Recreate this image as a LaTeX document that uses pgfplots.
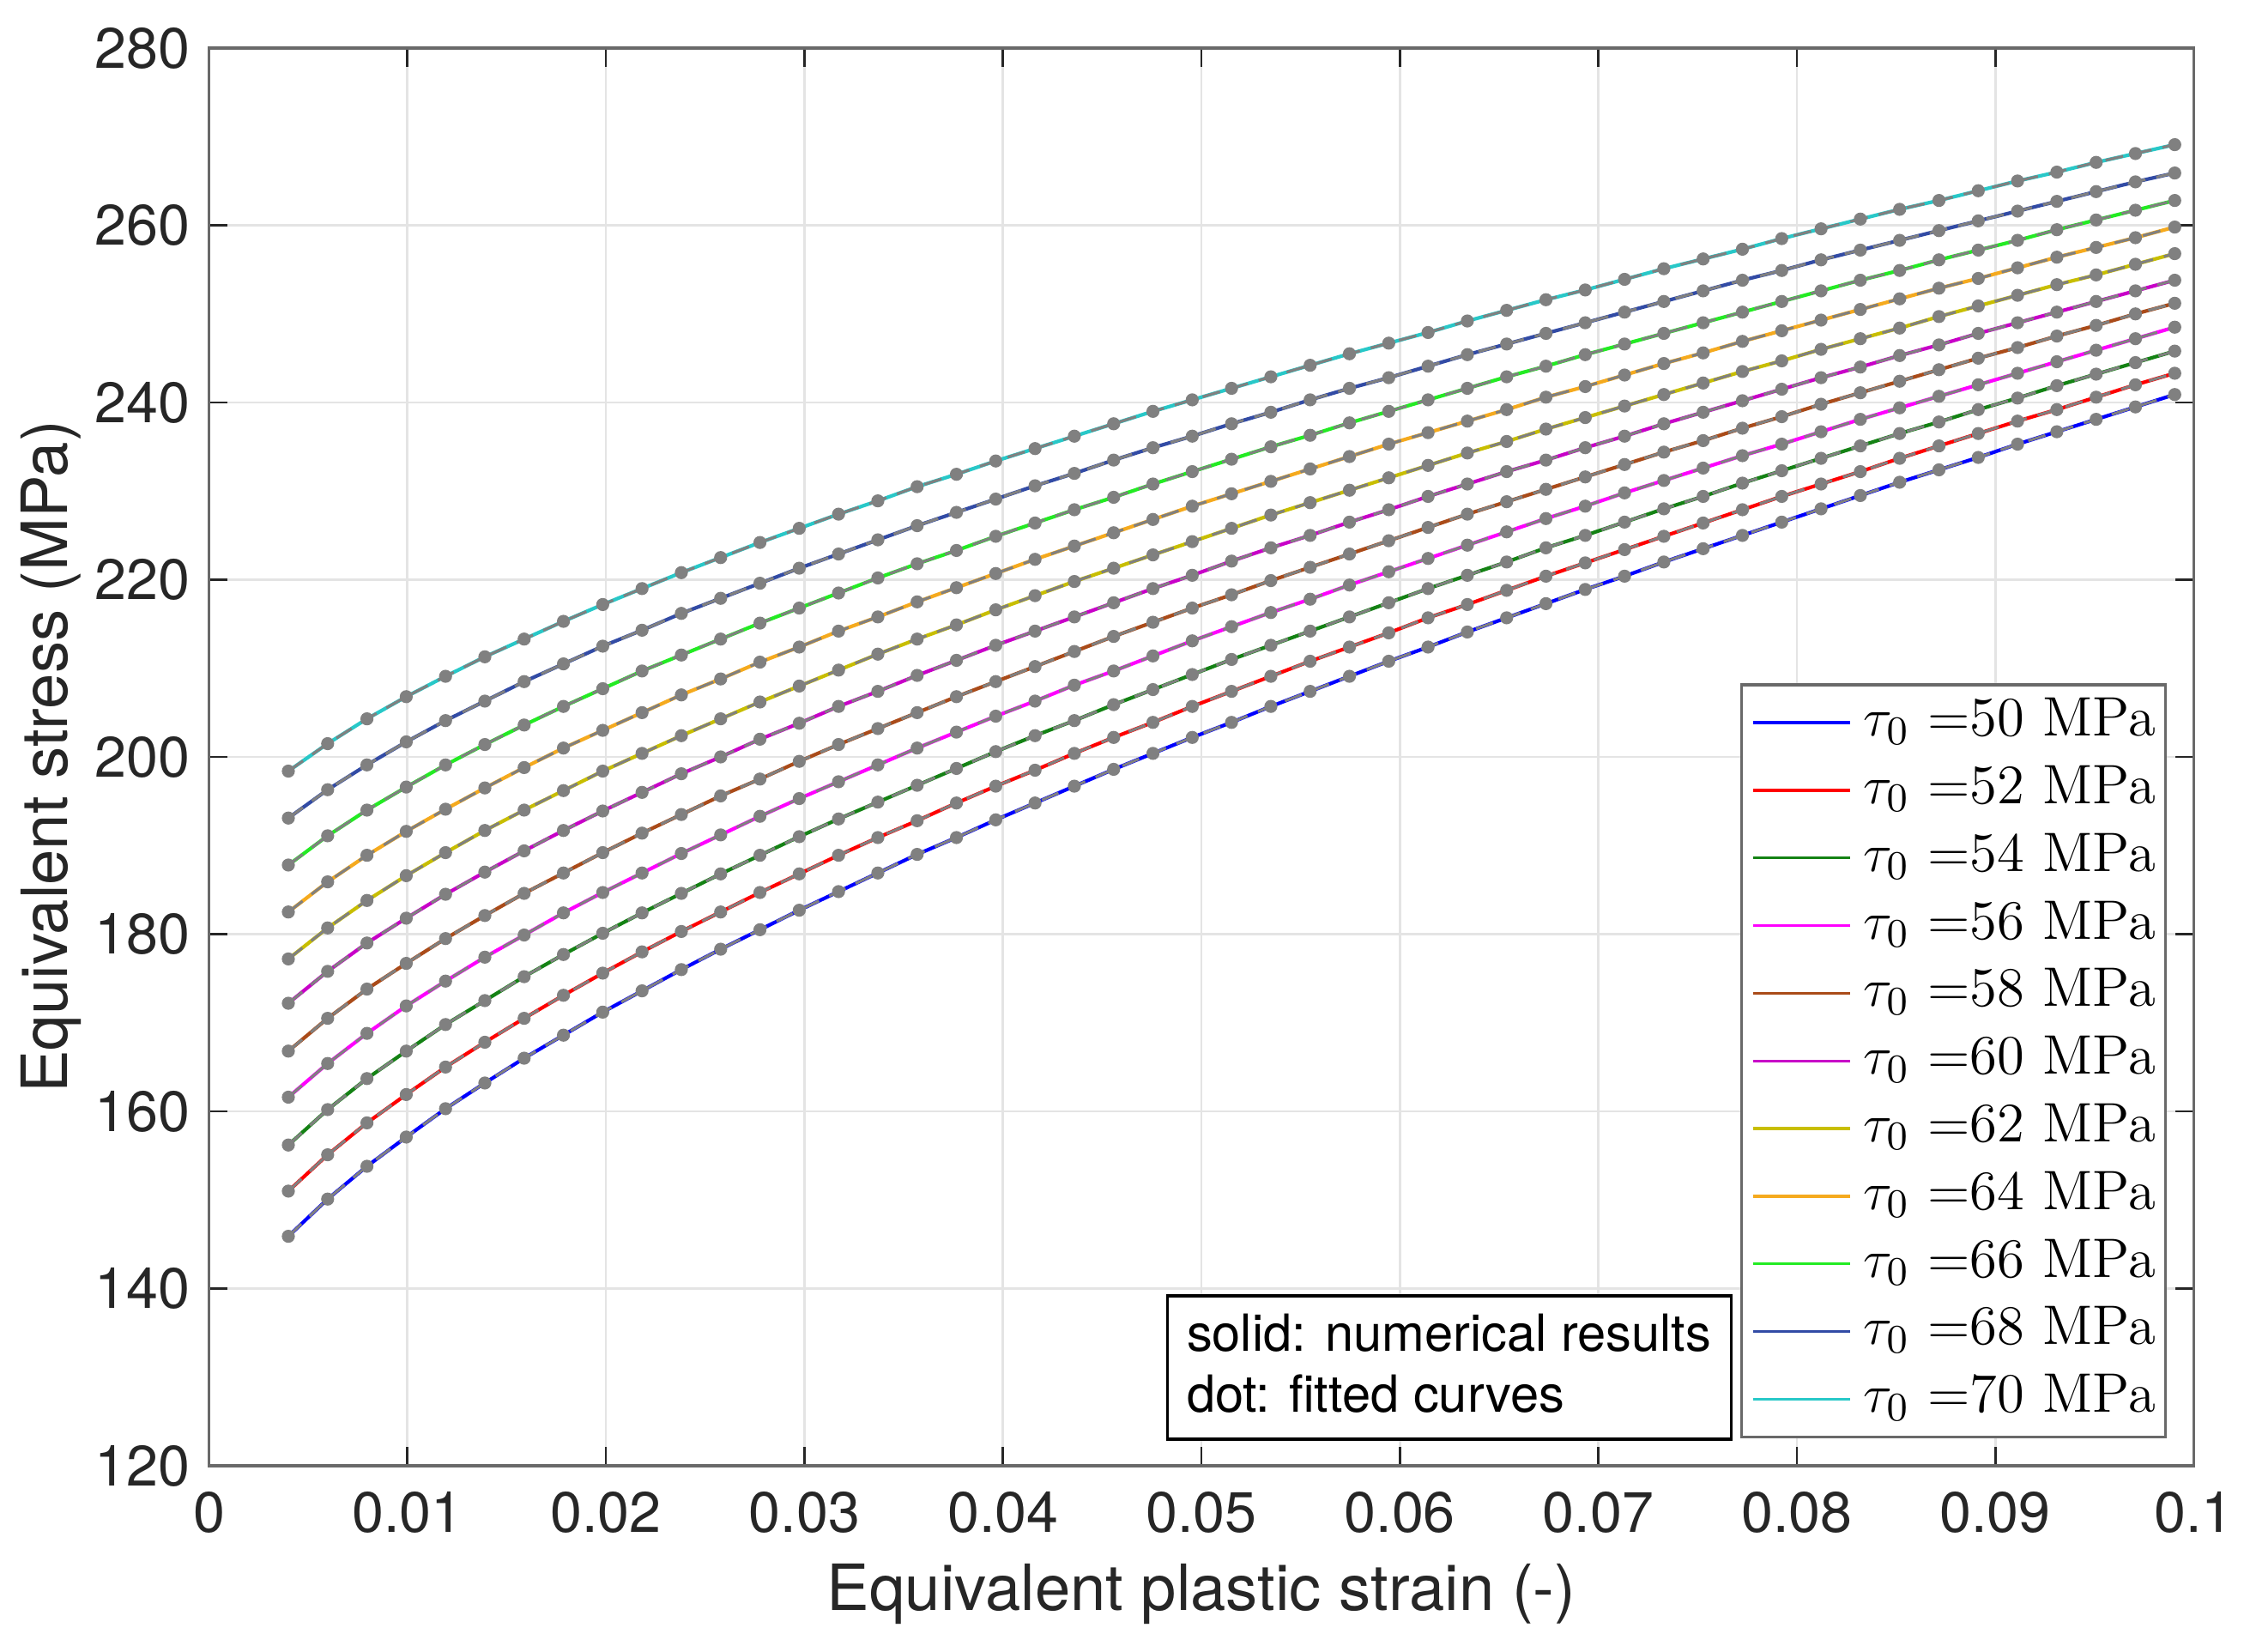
\documentclass[border=0pt]{standalone}
\usepackage{fontspec}
\usepackage{pgfplots}
\usepackage{pgfplotstable}
\pgfplotsset{compat=1.18}
\newfontfamily\heros{TeX Gyre Heros}
\definecolor{cA}{RGB}{0,0,255}
\definecolor{cB}{RGB}{255,0,0}
\definecolor{cC}{RGB}{20,130,20}
\definecolor{cD}{RGB}{255,0,255}
\definecolor{cE}{RGB}{170,75,25}
\definecolor{cF}{RGB}{200,0,200}
\definecolor{cG}{RGB}{200,190,0}
\definecolor{cH}{RGB}{245,170,30}
\definecolor{cI}{RGB}{35,235,35}
\definecolor{cJ}{RGB}{50,75,165}
\definecolor{cK}{RGB}{40,200,200}
\definecolor{txt}{RGB}{38,38,38}
\definecolor{axgray}{RGB}{105,105,105}
\definecolor{gridc}{RGB}{228,228,228}
\definecolor{fitgray}{RGB}{128,128,128}

\pgfplotstableread{
x s50 s52 s54 s56 s58 s60 s62 s64 s66 s68 s70
0.00400 145.9 151.0 156.2 161.6 166.8 172.2 177.2 182.5 187.8 193.1 198.4
0.00598 150.1 155.1 160.2 165.4 170.5 175.8 180.7 185.9 191.1 196.3 201.5
0.00796 153.8 158.7 163.7 168.8 173.8 179.0 183.8 188.9 194.0 199.1 204.3
0.00994 157.1 161.9 166.8 171.9 176.7 181.8 186.6 191.6 196.6 201.7 206.8
0.01192 160.3 165.0 169.8 174.7 179.5 184.5 189.2 194.1 199.1 204.1 209.1
0.01390 163.2 167.8 172.5 177.4 182.1 187.0 191.7 196.5 201.4 206.3 211.3
0.01588 166.0 170.5 175.2 179.9 184.6 189.4 194.0 198.8 203.6 208.5 213.3
0.01786 168.6 173.1 177.7 182.4 186.9 191.7 196.2 201.0 205.7 210.5 215.3
0.01984 171.2 175.6 180.1 184.7 189.2 193.9 198.4 203.0 207.7 212.5 217.2
0.02182 173.6 178.0 182.4 186.9 191.4 196.0 200.4 205.0 209.7 214.3 219.0
0.02380 176.0 180.3 184.6 189.1 193.5 198.1 202.4 207.0 211.5 216.2 220.8
0.02578 178.3 182.5 186.8 191.2 195.6 200.0 204.3 208.8 213.3 217.9 222.5
0.02776 180.5 184.7 188.9 193.3 197.5 202.0 206.2 210.7 215.1 219.6 224.2
0.02974 182.7 186.8 191.0 195.3 199.5 203.8 208.0 212.4 216.8 221.3 225.8
0.03172 184.8 188.9 193.0 197.2 201.4 205.7 209.8 214.2 218.5 222.9 227.4
0.03370 186.9 190.9 194.9 199.1 203.2 207.4 211.6 215.8 220.2 224.5 228.9
0.03568 189.0 192.8 196.8 201.0 205.0 209.2 213.3 217.5 221.8 226.1 230.5
0.03766 190.9 194.8 198.7 202.8 206.8 210.9 214.9 219.1 223.3 227.6 231.9
0.03964 192.9 196.7 200.6 204.6 208.5 212.6 216.6 220.7 224.9 229.1 233.4
0.04162 194.8 198.5 202.4 206.3 210.2 214.2 218.2 222.3 226.4 230.6 234.8
0.04360 196.7 200.4 204.1 208.1 211.9 215.8 219.8 223.8 227.9 232.0 236.2
0.04558 198.6 202.2 205.9 209.7 213.6 217.4 221.3 225.3 229.3 233.5 237.6
0.04756 200.4 203.9 207.6 211.4 215.2 219.0 222.8 226.8 230.8 234.9 239.0
0.04954 202.2 205.7 209.3 213.1 216.8 220.5 224.3 228.3 232.2 236.2 240.3
0.05152 203.9 207.4 211.0 214.7 218.3 222.1 225.8 229.7 233.6 237.6 241.6
0.05350 205.7 209.1 212.6 216.3 219.9 223.6 227.3 231.1 235.0 238.9 242.9
0.05548 207.4 210.8 214.2 217.8 221.4 225.0 228.7 232.5 236.3 240.3 244.2
0.05746 209.1 212.4 215.8 219.4 222.9 226.5 230.1 233.9 237.7 241.6 245.5
0.05944 210.8 214.0 217.4 220.9 224.4 227.9 231.5 235.3 239.0 242.8 246.7
0.06142 212.4 215.7 219.0 222.4 225.9 229.4 232.9 236.6 240.3 244.1 247.9
0.06340 214.1 217.2 220.5 223.9 227.4 230.8 234.3 237.9 241.6 245.4 249.2
0.06538 215.7 218.8 222.0 225.4 228.8 232.2 235.6 239.2 242.9 246.6 250.4
0.06736 217.3 220.4 223.6 226.9 230.2 233.5 237.0 240.6 244.1 247.8 251.6
0.06934 218.9 221.9 225.0 228.3 231.6 234.9 238.3 241.8 245.4 249.0 252.7
0.07132 220.4 223.4 226.5 229.8 233.0 236.2 239.6 243.1 246.6 250.2 253.9
0.07330 222.0 224.9 228.0 231.2 234.4 237.6 240.9 244.4 247.8 251.4 255.1
0.07528 223.5 226.4 229.4 232.6 235.7 238.9 242.2 245.6 249.0 252.6 256.2
0.07726 225.0 227.9 230.9 234.0 237.1 240.2 243.5 246.9 250.2 253.8 257.3
0.07924 226.5 229.4 232.3 235.3 238.4 241.5 244.7 248.1 251.4 254.9 258.5
0.08122 228.0 230.8 233.7 236.7 239.8 242.8 246.0 249.3 252.6 256.1 259.6
0.08320 229.5 232.2 235.1 238.1 241.1 244.0 247.2 250.5 253.8 257.2 260.7
0.08518 231.0 233.7 236.5 239.4 242.4 245.3 248.4 251.7 254.9 258.3 261.8
0.08716 232.4 235.1 237.8 240.7 243.7 246.5 249.7 252.9 256.1 259.4 262.8
0.08914 233.8 236.5 239.2 242.0 245.0 247.8 250.9 254.0 257.2 260.5 263.9
0.09112 235.3 237.9 240.5 243.3 246.2 249.0 252.1 255.2 258.3 261.6 265.0
0.09310 236.7 239.2 241.9 244.6 247.5 250.2 253.3 256.4 259.5 262.7 266.0
0.09508 238.1 240.6 243.2 245.9 248.7 251.4 254.4 257.5 260.6 263.8 267.1
0.09706 239.5 242.0 244.5 247.2 250.0 252.6 255.6 258.6 261.7 264.9 268.1
0.09904 240.9 243.3 245.8 248.5 251.2 253.8 256.8 259.8 262.8 265.9 269.1
}\data

\begin{document}
\begin{tikzpicture}
\begin{axis}[
  scale only axis,
  width=442.26pt, height=315.87pt,
  xmin=0, xmax=0.1, ymin=120, ymax=280,
  xtick={0,0.01,0.02,0.03,0.04,0.05,0.06,0.07,0.08,0.09,0.1},
  xticklabels={0,0.01,0.02,0.03,0.04,0.05,0.06,0.07,0.08,0.09,0.1},
  ytick={120,140,160,180,200,220,240,260,280},
  scaled x ticks=false,
  /pgf/number format/assume math mode=true,
  tick label style={font=\heros\fontsize{12.7}{14}\selectfont, text=txt},
  xticklabel style={yshift=-2.2pt},
  yticklabel style={xshift=-0.7pt},
  tick align=inside,
  xtick pos=both, ytick pos=both,
  xticklabel pos=bottom, yticklabel pos=left,
  major tick length=4.2pt,
  major tick style={color=txt, line width=0.5pt},
  axis line style={color=axgray, line width=0.75pt},
  grid=major,
  major grid style={color=gridc, line width=0.5pt},
  xlabel={Equivalent plastic strain (-)},
  ylabel={Equivalent stress (MPa)},
  label style={font=\heros\fontsize{14.2}{16}\selectfont, text=txt},
  xlabel style={at={(axis description cs:0.5,-0.10226)}, anchor=base},
  ylabel style={at={(axis description cs:-0.07145,0.5)}, anchor=base},
  legend style={
    at={(0.9864,0.0194)}, anchor=south east,
    draw=axgray, line width=0.6pt, fill=white,
    inner xsep=2.2pt, inner ysep=0.9pt,
    font=\fontsize{12.4}{14}\selectfont,
    row sep=0pt,
    nodes={inner sep=0pt, text height=10.5pt, text depth=4.57pt},
    /tikz/every odd column/.append style={column sep=2.7pt},
  },
  legend cell align=left,
  legend image code/.code={\draw[#1, line width=0.65pt] (0pt,0pt) -- (21.6pt,0pt);},
]
\addplot[cA, line width=0.8pt] table[x=x, y=s50] {\data}; \addlegendentry{$\tau_0$ =50 MPa}
\addplot[cB, line width=0.8pt] table[x=x, y=s52] {\data}; \addlegendentry{$\tau_0$ =52 MPa}
\addplot[cC, line width=0.8pt] table[x=x, y=s54] {\data}; \addlegendentry{$\tau_0$ =54 MPa}
\addplot[cD, line width=0.8pt] table[x=x, y=s56] {\data}; \addlegendentry{$\tau_0$ =56 MPa}
\addplot[cE, line width=0.8pt] table[x=x, y=s58] {\data}; \addlegendentry{$\tau_0$ =58 MPa}
\addplot[cF, line width=0.8pt] table[x=x, y=s60] {\data}; \addlegendentry{$\tau_0$ =60 MPa}
\addplot[cG, line width=0.8pt] table[x=x, y=s62] {\data}; \addlegendentry{$\tau_0$ =62 MPa}
\addplot[cH, line width=0.8pt] table[x=x, y=s64] {\data}; \addlegendentry{$\tau_0$ =64 MPa}
\addplot[cI, line width=0.8pt] table[x=x, y=s66] {\data}; \addlegendentry{$\tau_0$ =66 MPa}
\addplot[cJ, line width=0.8pt] table[x=x, y=s68] {\data}; \addlegendentry{$\tau_0$ =68 MPa}
\addplot[cK, line width=0.8pt] table[x=x, y=s70] {\data}; \addlegendentry{$\tau_0$ =70 MPa}
\pgfplotsinvokeforeach{s50,s52,s54,s56,s58,s60,s62,s64,s66,s68,s70}{
  \addplot[forget plot, fitgray, line width=0.6pt, dash pattern=on 4pt off 2.5pt,
    mark=*, mark size=1.15pt, mark options={solid, fill=fitgray, draw=fitgray}]
    table[x=x, y=#1] {\data};
}
\draw[black, line width=0.6pt, fill=white] (rel axis cs:0.4830,0.01877) rectangle (rel axis cs:0.7670,0.1199);
\node[anchor=base west, inner sep=0pt, font=\heros\fontsize{11.4}{13.6}\selectfont] at (rel axis cs:0.4922,0.0811) {solid: numerical results};
\node[anchor=base west, inner sep=0pt, font=\heros\fontsize{11.4}{13.6}\selectfont] at (rel axis cs:0.4922,0.0381) {dot: fitted curves};
\end{axis}
\pgfresetboundingbox
\path[use as bounding box] (-46.56pt,-41.30pt) rectangle (453.45pt,326.58pt);
\end{tikzpicture}
\end{document}
